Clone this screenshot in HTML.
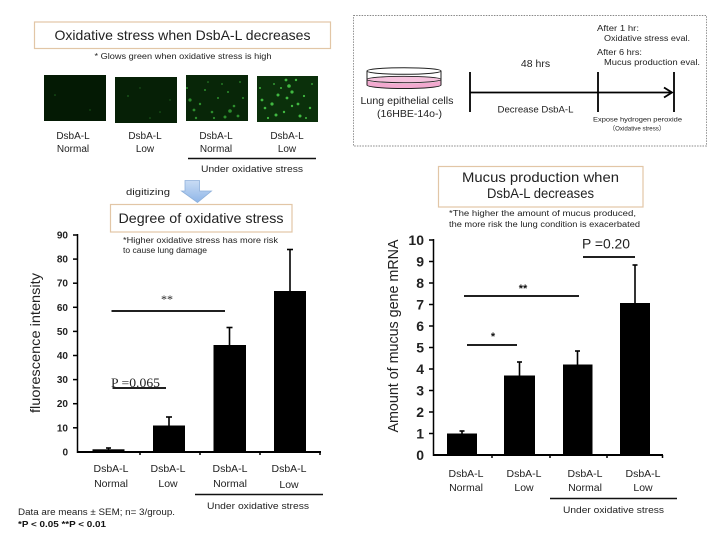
<!DOCTYPE html>
<html><head><meta charset="utf-8"><style>
html,body{margin:0;padding:0;background:#fff;}
svg{display:block;}
text{font-family:"Liberation Sans",Arial,sans-serif;fill:#222;}
.b{font-weight:bold;fill:#111;}
.s{font-family:"Liberation Serif","Times New Roman",serif;}
</style></head><body>
<svg width="720" height="540" viewBox="0 0 720 540" xmlns="http://www.w3.org/2000/svg">
<defs>
<linearGradient id="ag" x1="0" y1="0" x2="0" y2="1"><stop offset="0" stop-color="#c9dcf4"/><stop offset="1" stop-color="#8fb6e8"/></linearGradient>
</defs>
<rect width="720" height="540" fill="#fff"/>

<!-- ===== Top-left title ===== -->
<rect x="34.5" y="22" width="296" height="26.5" fill="#fff" stroke="#e2c6a6" stroke-width="1.2"/>
<text x="182.5" y="40" font-size="14" text-anchor="middle" textLength="256" lengthAdjust="spacingAndGlyphs">Oxidative stress when DsbA-L decreases</text>
<text x="183" y="59" font-size="8" text-anchor="middle" textLength="177" lengthAdjust="spacingAndGlyphs">* Glows green when oxidative stress is high</text>

<!-- microscopy images -->
<rect x="44" y="75" width="62" height="46" fill="#041a04"/>
<rect x="115" y="77" width="62" height="46" fill="#062006"/>
<rect x="186" y="75" width="62" height="46" fill="#082608"/>
<rect x="257" y="76" width="61" height="46" fill="#0b300b"/>
<g fill="#2f8f2f" opacity="0.6">
<circle cx="55" cy="95" r="0.8"/><circle cx="90" cy="110" r="0.7"/>
<circle cx="128" cy="96" r="0.9"/><circle cx="140" cy="88" r="0.7"/><circle cx="160" cy="112" r="0.8"/><circle cx="150" cy="118" r="0.8"/><circle cx="170" cy="100" r="0.7"/>
</g>
<g fill="#3dbb3d" opacity="0.7">
<circle cx="190" cy="100" r="1.6"/><circle cx="194" cy="110" r="1.4"/><circle cx="200" cy="104" r="1.2"/><circle cx="205" cy="90" r="1"/>
<circle cx="212" cy="112" r="1.3"/><circle cx="218" cy="98" r="1"/><circle cx="225" cy="117" r="1.5"/><circle cx="230" cy="111" r="1.8"/>
<circle cx="234" cy="106" r="1.3"/><circle cx="238" cy="116" r="1.4"/><circle cx="243" cy="98" r="1"/><circle cx="196" cy="118" r="1.2"/>
<circle cx="222" cy="84" r="0.9"/><circle cx="240" cy="82" r="0.9"/><circle cx="208" cy="82" r="0.8"/><circle cx="228" cy="92" r="1"/>
<circle cx="187" cy="88" r="1"/><circle cx="214" cy="118" r="1.1"/>
</g>
<g fill="#4fdc4f" opacity="0.8">
<circle cx="286" cy="80" r="1.4"/><circle cx="289" cy="86" r="1.8"/><circle cx="292" cy="92" r="1.6"/><circle cx="287" cy="98" r="1.4"/>
<circle cx="296" cy="80" r="1.2"/><circle cx="278" cy="95" r="1.5"/><circle cx="272" cy="104" r="1.6"/><circle cx="265" cy="108" r="1.3"/>
<circle cx="262" cy="100" r="1.4"/><circle cx="276" cy="115" r="1.5"/><circle cx="284" cy="112" r="1.2"/><circle cx="298" cy="104" r="1.4"/>
<circle cx="304" cy="96" r="1.1"/><circle cx="310" cy="108" r="1.2"/><circle cx="300" cy="116" r="1.5"/><circle cx="268" cy="118" r="1.1"/>
<circle cx="292" cy="106" r="1.2"/><circle cx="281" cy="88" r="1"/><circle cx="312" cy="84" r="0.9"/><circle cx="260" cy="88" r="1"/>
<circle cx="306" cy="118" r="1"/><circle cx="274" cy="84" r="0.9"/>
</g>

<g font-size="10" text-anchor="middle">
<text x="73" y="139">DsbA-L</text><text x="73" y="152">Normal</text>
<text x="145" y="139">DsbA-L</text><text x="145" y="152">Low</text>
<text x="216" y="139">DsbA-L</text><text x="216" y="152">Normal</text>
<text x="287" y="139">DsbA-L</text><text x="287" y="152">Low</text>
</g>
<line x1="188" y1="158.5" x2="316" y2="158.5" stroke="#111" stroke-width="1.6"/>
<text x="252" y="172" font-size="9.5" text-anchor="middle" textLength="102" lengthAdjust="spacingAndGlyphs">Under oxidative stress</text>

<text x="126" y="195" font-size="9.5" textLength="44" lengthAdjust="spacingAndGlyphs">digitizing</text>
<path d="M185,180.5 H199.5 V191 H211.5 L197.5,202.5 L181.5,191 H185 Z" fill="url(#ag)" stroke="#8eb0da" stroke-width="0.8"/>

<rect x="110.5" y="204.5" width="181.5" height="27.5" fill="#fff" stroke="#e2c6a6" stroke-width="1.2"/>
<text x="201" y="223" font-size="14" text-anchor="middle" textLength="165" lengthAdjust="spacingAndGlyphs">Degree of oxidative stress</text>

<!-- ===== Left chart ===== -->
<text x="123" y="243" font-size="8" textLength="155" lengthAdjust="spacingAndGlyphs">*Higher oxidative stress has more risk</text>
<text x="123" y="253" font-size="8" textLength="84" lengthAdjust="spacingAndGlyphs">to cause lung damage</text>

<g class="b" font-size="10" text-anchor="end">
<text x="68" y="238.5">90</text><text x="68" y="262.6">80</text><text x="68" y="286.7">70</text>
<text x="68" y="310.8">60</text><text x="68" y="334.9">50</text><text x="68" y="359">40</text>
<text x="68" y="383.1">30</text><text x="68" y="407.2">20</text><text x="68" y="431.3">10</text><text x="68" y="455.4">0</text>
</g>
<g stroke="#000" stroke-width="1.5">
<line x1="73" y1="235" x2="78" y2="235"/><line x1="73" y1="259.1" x2="78" y2="259.1"/><line x1="73" y1="283.2" x2="78" y2="283.2"/>
<line x1="73" y1="307.3" x2="78" y2="307.3"/><line x1="73" y1="331.4" x2="78" y2="331.4"/><line x1="73" y1="355.5" x2="78" y2="355.5"/>
<line x1="73" y1="379.6" x2="78" y2="379.6"/><line x1="73" y1="403.7" x2="78" y2="403.7"/><line x1="73" y1="427.8" x2="78" y2="427.8"/>
<line x1="77.5" y1="234" x2="77.5" y2="453"/>
<line x1="77" y1="452" x2="321" y2="452" stroke-width="2"/>
<line x1="140" y1="452" x2="140" y2="455"/><line x1="200" y1="452" x2="200" y2="455"/><line x1="260" y1="452" x2="260" y2="455"/><line x1="320" y1="452" x2="320" y2="455"/>
</g>
<text transform="translate(40,343) rotate(-90)" font-size="14" text-anchor="middle" textLength="140" lengthAdjust="spacingAndGlyphs">fluorescence intensity</text>

<g fill="#000">
<rect x="92.5" y="449.3" width="32" height="2.7"/>
<rect x="153" y="425.5" width="32" height="26.5"/>
<rect x="213.5" y="345" width="32.5" height="107"/>
<rect x="274" y="291" width="32" height="161"/>
</g>
<g stroke="#000" stroke-width="1.6">
<line x1="108.5" y1="448" x2="108.5" y2="450"/><line x1="106" y1="448" x2="111" y2="448"/>
<line x1="169" y1="417" x2="169" y2="426"/><line x1="166" y1="417" x2="172" y2="417"/>
<line x1="229.5" y1="327.5" x2="229.5" y2="346"/><line x1="226.5" y1="327.5" x2="232.5" y2="327.5"/>
<line x1="290" y1="249.5" x2="290" y2="292"/><line x1="287" y1="249.5" x2="293" y2="249.5"/>
<line x1="111.5" y1="311" x2="225" y2="311" stroke-width="1.8"/>
<line x1="112.5" y1="388" x2="166" y2="388" stroke-width="1.8"/>
</g>
<text x="167" y="303" font-size="12" text-anchor="middle" class="s" fill="#333">**</text>
<text x="111" y="387" font-size="13" class="s" textLength="49" lengthAdjust="spacingAndGlyphs">P =0.065</text>

<g font-size="10.5" text-anchor="middle">
<text x="111" y="472">DsbA-L</text><text x="111" y="487">Normal</text>
<text x="168" y="472">DsbA-L</text><text x="168" y="487">Low</text>
<text x="230" y="472">DsbA-L</text><text x="230" y="487">Normal</text>
<text x="289" y="472">DsbA-L</text><text x="289" y="488">Low</text>
</g>
<line x1="195" y1="494.5" x2="323" y2="494.5" stroke="#111" stroke-width="1.6"/>
<text x="258" y="509" font-size="9.5" text-anchor="middle" textLength="102" lengthAdjust="spacingAndGlyphs">Under oxidative stress</text>
<text x="18" y="515" font-size="9" textLength="157" lengthAdjust="spacingAndGlyphs">Data are means ± SEM; n= 3/group.</text>
<text x="18" y="527" font-size="8.5" class="b" textLength="88" lengthAdjust="spacingAndGlyphs">*P &lt; 0.05 **P &lt; 0.01</text>

<!-- ===== Top-right diagram ===== -->
<rect x="353.5" y="15.5" width="353" height="130.5" fill="none" stroke="#888" stroke-width="0.9" stroke-dasharray="1.5,1.2"/>
<!-- petri dish -->
<path d="M367,80 V85 A37,3.5 0 0 0 441,85 V80 A37,3.5 0 0 1 367,80 Z" fill="#f2a9cf"/>
<ellipse cx="404" cy="79.5" rx="37" ry="3.2" fill="#f6c3de" stroke="#222" stroke-width="0.9"/>
<line x1="367" y1="71" x2="367" y2="85" stroke="#222" stroke-width="1"/>
<line x1="441" y1="71" x2="441" y2="85" stroke="#222" stroke-width="1"/>
<path d="M367,85 A37,3.5 0 0 0 441,85" fill="none" stroke="#222" stroke-width="1"/>
<ellipse cx="404" cy="71" rx="37" ry="3.3" fill="#fff" stroke="#222" stroke-width="1"/>
<text x="407" y="104" font-size="10" text-anchor="middle" textLength="93" lengthAdjust="spacingAndGlyphs">Lung epithelial cells</text>
<text x="409.5" y="117" font-size="10" text-anchor="middle" textLength="65" lengthAdjust="spacingAndGlyphs">(16HBE-14o-)</text>

<g stroke="#000" stroke-width="1.8">
<line x1="470" y1="72" x2="470" y2="112"/>
<line x1="598" y1="72" x2="598" y2="112"/>
<line x1="674" y1="72" x2="674" y2="112"/>
<line x1="470" y1="92.5" x2="671" y2="92.5"/>
<polyline points="664,87.5 672,92.5 664,97.5" fill="none"/>
</g>
<text x="535.5" y="67" font-size="10.5" text-anchor="middle">48 hrs</text>
<text x="535.5" y="112.5" font-size="9.5" text-anchor="middle" textLength="76" lengthAdjust="spacingAndGlyphs">Decrease DsbA-L</text>
<g font-size="8.5">
<text x="597" y="31" textLength="42" lengthAdjust="spacingAndGlyphs">After 1 hr:</text>
<text x="604" y="41" textLength="86" lengthAdjust="spacingAndGlyphs">Oxidative stress eval.</text>
<text x="597" y="55" textLength="45" lengthAdjust="spacingAndGlyphs">After 6 hrs:</text>
<text x="604" y="65" textLength="96" lengthAdjust="spacingAndGlyphs">Mucus production eval.</text>
</g>
<text x="637.5" y="121.5" font-size="6.5" text-anchor="middle" textLength="89" lengthAdjust="spacingAndGlyphs">Expose hydrogen peroxide</text>
<text x="637" y="130.5" font-size="6.5" text-anchor="middle" textLength="56" lengthAdjust="spacingAndGlyphs">（Oxidative stress）</text>

<!-- ===== Right chart ===== -->
<rect x="438.5" y="166.5" width="204.5" height="40.5" fill="#fff" stroke="#e2c6a6" stroke-width="1.2"/>
<text x="540.5" y="182" font-size="14" text-anchor="middle" textLength="157" lengthAdjust="spacingAndGlyphs">Mucus production when</text>
<text x="540.5" y="198" font-size="14" text-anchor="middle" textLength="107" lengthAdjust="spacingAndGlyphs">DsbA-L decreases</text>
<text x="449" y="216" font-size="8" textLength="187" lengthAdjust="spacingAndGlyphs">*The higher the amount of mucus produced,</text>
<text x="449" y="227" font-size="8" textLength="191" lengthAdjust="spacingAndGlyphs">the more risk the lung condition is exacerbated</text>

<g class="b" font-size="14" text-anchor="end">
<text x="424" y="245">10</text><text x="424" y="266.5">9</text><text x="424" y="288">8</text><text x="424" y="309.5">7</text>
<text x="424" y="331">6</text><text x="424" y="352.5">5</text><text x="424" y="374">4</text><text x="424" y="395.5">3</text>
<text x="424" y="417">2</text><text x="424" y="438.5">1</text><text x="424" y="460">0</text>
</g>
<g stroke="#000" stroke-width="1.5">
<line x1="429" y1="240" x2="434" y2="240"/><line x1="429" y1="261.5" x2="434" y2="261.5"/><line x1="429" y1="283" x2="434" y2="283"/>
<line x1="429" y1="304.5" x2="434" y2="304.5"/><line x1="429" y1="326" x2="434" y2="326"/><line x1="429" y1="347.5" x2="434" y2="347.5"/>
<line x1="429" y1="369" x2="434" y2="369"/><line x1="429" y1="390.5" x2="434" y2="390.5"/><line x1="429" y1="412" x2="434" y2="412"/>
<line x1="429" y1="433.5" x2="434" y2="433.5"/>
<line x1="433.5" y1="239" x2="433.5" y2="456"/>
<line x1="433" y1="455" x2="663" y2="455" stroke-width="2"/>
<line x1="492" y1="455" x2="492" y2="458"/><line x1="550" y1="455" x2="550" y2="458"/><line x1="607" y1="455" x2="607" y2="458"/><line x1="662.5" y1="455" x2="662.5" y2="458"/>
</g>
<text transform="translate(398,336) rotate(-90)" font-size="15" text-anchor="middle" textLength="193" lengthAdjust="spacingAndGlyphs">Amount of mucus gene mRNA</text>

<g fill="#000">
<rect x="447" y="433.5" width="30" height="21.5"/>
<rect x="504" y="375.5" width="31" height="79.5"/>
<rect x="563" y="364.5" width="29.5" height="90.5"/>
<rect x="620" y="303" width="30" height="152"/>
</g>
<g stroke="#000" stroke-width="1.6">
<line x1="462" y1="431" x2="462" y2="434"/><line x1="459.5" y1="431" x2="464.5" y2="431"/>
<line x1="519.5" y1="362" x2="519.5" y2="376"/><line x1="517" y1="362" x2="522" y2="362"/>
<line x1="577.5" y1="351" x2="577.5" y2="365"/><line x1="575" y1="351" x2="580" y2="351"/>
<line x1="635" y1="265" x2="635" y2="304"/><line x1="632.5" y1="265" x2="637.5" y2="265"/>
<line x1="467" y1="345" x2="517" y2="345" stroke-width="1.8"/>
<line x1="464" y1="296" x2="579" y2="296" stroke-width="1.8"/>
<line x1="583" y1="257" x2="635" y2="257" stroke-width="1.8"/>
</g>
<text x="493" y="340" font-size="11" text-anchor="middle" class="b">*</text>
<text x="523" y="292" font-size="11" text-anchor="middle" class="b">**</text>
<text x="582" y="248.5" font-size="14" textLength="48" lengthAdjust="spacingAndGlyphs">P =0.20</text>

<g font-size="10.5" text-anchor="middle">
<text x="466" y="477">DsbA-L</text><text x="466" y="491">Normal</text>
<text x="524" y="477">DsbA-L</text><text x="524" y="491">Low</text>
<text x="585" y="477">DsbA-L</text><text x="585" y="491">Normal</text>
<text x="643" y="477">DsbA-L</text><text x="643" y="491">Low</text>
</g>
<line x1="550" y1="498.5" x2="677" y2="498.5" stroke="#111" stroke-width="1.6"/>
<text x="613.5" y="513" font-size="9.5" text-anchor="middle" textLength="101" lengthAdjust="spacingAndGlyphs">Under oxidative stress</text>
</svg>
</body></html>
